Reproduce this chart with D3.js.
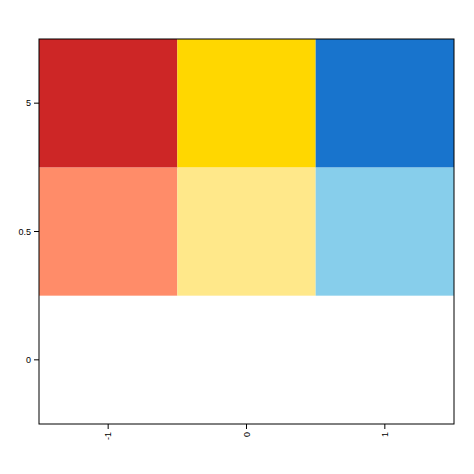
<!DOCTYPE html><html><head><script src="https://cdn.jsdelivr.net/npm/d3@7"></script>
<style>body{margin:0;background:#fff}</style></head><body><svg id="c" width="474" height="474"></svg>
<script>
const xCats=["-1","0","1"];
const yCats=["0","0.5","5"];
const cellColors=[
 ["#ffffff","#ffffff","#ffffff"],
 ["#FF8C69","#FFE88A","#87CEEB"],
 ["#CD2626","#FFD700","#1874CD"]
];
const svg=d3.select("#c");
const L=39,R=454,T=39,B=424;
const x=d3.scaleBand().domain(xCats).range([L,R]);
const y=d3.scaleBand().domain(yCats).range([B,T]);
yCats.forEach((yc,i)=>xCats.forEach((xc,j)=>{
 svg.append("rect").attr("x",x(xc)).attr("y",y(yc)).attr("width",x.bandwidth()).attr("height",y.bandwidth()).attr("fill",cellColors[i][j]);
}));
svg.append("rect").attr("x",L).attr("y",T).attr("width",R-L).attr("height",B-T).attr("fill","none").attr("stroke","#000");
const ax=svg.append("g").attr("transform",`translate(0,${B})`).call(d3.axisBottom(x).tickSize(5).tickSizeOuter(0));
ax.select(".domain").remove();
ax.selectAll("text").attr("transform","rotate(-90)").attr("text-anchor","end").attr("x",-8).attr("y",0).attr("dy","0.35em").style("font-family","Liberation Sans, Arial").style("font-size","9px");
const ay=svg.append("g").attr("transform",`translate(${L},0)`).call(d3.axisLeft(y).tickSize(5).tickSizeOuter(0));
ay.select(".domain").remove();
ay.selectAll("text").attr("transform",d=>`rotate(-90,-10,${0})`).attr("text-anchor","middle").attr("x",-10).attr("dy","-0.35em").attr("y",0).style("font-family","Liberation Sans, Arial").style("font-size","9px");
ay.selectAll("text").attr("transform",null).attr("text-anchor","end").attr("x",-8).attr("dy","0.35em");
</script></body></html>
